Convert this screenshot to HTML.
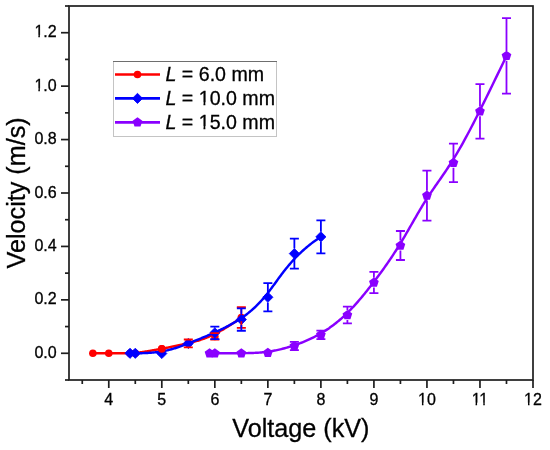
<!DOCTYPE html>
<html><head><meta charset="utf-8"><style>
html,body{margin:0;padding:0;background:#fff;}
svg{display:block;}
.tk{font-family:"Liberation Sans",sans-serif;font-size:16px;fill:#000;stroke:#000;stroke-width:0.3px;}
.lg{font-family:"Liberation Sans",sans-serif;font-size:19.6px;fill:#000;stroke:#000;stroke-width:0.3px;}
.ti{font-family:"Liberation Sans",sans-serif;font-size:25.2px;fill:#000;stroke:#000;stroke-width:0.3px;}
</style></head><body>
<svg width="550" height="450" viewBox="0 0 550 450">
<rect width="550" height="450" fill="#fff"/>
<defs><mask id="nf" maskUnits="userSpaceOnUse" x="0" y="0" width="550" height="450"><rect width="550" height="450" fill="#fff"/><g fill="#000"><rect x="34.46" y="88.32" width="3.89" height="3.68"/><rect x="39.87" y="88.32" width="3.55" height="3.68"/><rect x="34.46" y="34.89" width="3.89" height="3.68"/><rect x="39.87" y="34.89" width="3.55" height="3.68"/><rect x="418.04" y="402.68" width="3.89" height="3.68"/><rect x="423.45" y="402.68" width="3.55" height="3.68"/><rect x="471.67" y="402.68" width="3.89" height="3.68"/><rect x="477.08" y="402.68" width="3.55" height="3.68"/><rect x="479.37" y="402.68" width="3.89" height="3.68"/><rect x="484.78" y="402.68" width="3.55" height="3.68"/><rect x="524.10" y="402.68" width="3.89" height="3.68"/><rect x="529.51" y="402.68" width="3.55" height="3.68"/><rect x="198.73" y="102.36" width="4.76" height="4.51"/><rect x="205.36" y="102.36" width="4.35" height="4.51"/><rect x="198.73" y="126.26" width="4.76" height="4.51"/><rect x="205.36" y="126.26" width="4.35" height="4.51"/></g></mask></defs>
<rect x="69.00" y="6.00" width="464.00" height="374.00" fill="none" stroke="#1e1e1e" stroke-width="1.7"/>
<line x1="65.00" y1="380.00" x2="69.00" y2="380.00" stroke="#1e1e1e" stroke-width="1.7"/>
<line x1="61.00" y1="353.29" x2="69.00" y2="353.29" stroke="#1e1e1e" stroke-width="1.7"/>
<text x="34.46" y="357.79" class="tk">0.0</text>
<line x1="65.00" y1="326.57" x2="69.00" y2="326.57" stroke="#1e1e1e" stroke-width="1.7"/>
<line x1="61.00" y1="299.86" x2="69.00" y2="299.86" stroke="#1e1e1e" stroke-width="1.7"/>
<text x="34.46" y="304.36" class="tk">0.2</text>
<line x1="65.00" y1="273.14" x2="69.00" y2="273.14" stroke="#1e1e1e" stroke-width="1.7"/>
<line x1="61.00" y1="246.43" x2="69.00" y2="246.43" stroke="#1e1e1e" stroke-width="1.7"/>
<text x="34.46" y="250.93" class="tk">0.4</text>
<line x1="65.00" y1="219.71" x2="69.00" y2="219.71" stroke="#1e1e1e" stroke-width="1.7"/>
<line x1="61.00" y1="193.00" x2="69.00" y2="193.00" stroke="#1e1e1e" stroke-width="1.7"/>
<text x="34.46" y="197.50" class="tk">0.6</text>
<line x1="65.00" y1="166.29" x2="69.00" y2="166.29" stroke="#1e1e1e" stroke-width="1.7"/>
<line x1="61.00" y1="139.57" x2="69.00" y2="139.57" stroke="#1e1e1e" stroke-width="1.7"/>
<text x="34.46" y="144.07" class="tk">0.8</text>
<line x1="65.00" y1="112.86" x2="69.00" y2="112.86" stroke="#1e1e1e" stroke-width="1.7"/>
<line x1="61.00" y1="86.14" x2="69.00" y2="86.14" stroke="#1e1e1e" stroke-width="1.7"/>
<text x="34.46" y="90.64" class="tk" mask="url(#nf)">1.0</text>
<line x1="65.00" y1="59.43" x2="69.00" y2="59.43" stroke="#1e1e1e" stroke-width="1.7"/>
<line x1="61.00" y1="32.71" x2="69.00" y2="32.71" stroke="#1e1e1e" stroke-width="1.7"/>
<text x="34.46" y="37.21" class="tk" mask="url(#nf)">1.2</text>
<line x1="65.00" y1="6.00" x2="69.00" y2="6.00" stroke="#1e1e1e" stroke-width="1.7"/>
<line x1="82.26" y1="380.00" x2="82.26" y2="384.00" stroke="#1e1e1e" stroke-width="1.7"/>
<line x1="108.77" y1="380.00" x2="108.77" y2="388.00" stroke="#1e1e1e" stroke-width="1.7"/>
<text x="104.32" y="405.00" class="tk">4</text>
<line x1="135.29" y1="380.00" x2="135.29" y2="384.00" stroke="#1e1e1e" stroke-width="1.7"/>
<line x1="161.80" y1="380.00" x2="161.80" y2="388.00" stroke="#1e1e1e" stroke-width="1.7"/>
<text x="157.35" y="405.00" class="tk">5</text>
<line x1="188.31" y1="380.00" x2="188.31" y2="384.00" stroke="#1e1e1e" stroke-width="1.7"/>
<line x1="214.83" y1="380.00" x2="214.83" y2="388.00" stroke="#1e1e1e" stroke-width="1.7"/>
<text x="210.38" y="405.00" class="tk">6</text>
<line x1="241.34" y1="380.00" x2="241.34" y2="384.00" stroke="#1e1e1e" stroke-width="1.7"/>
<line x1="267.86" y1="380.00" x2="267.86" y2="388.00" stroke="#1e1e1e" stroke-width="1.7"/>
<text x="263.41" y="405.00" class="tk">7</text>
<line x1="294.37" y1="380.00" x2="294.37" y2="384.00" stroke="#1e1e1e" stroke-width="1.7"/>
<line x1="320.89" y1="380.00" x2="320.89" y2="388.00" stroke="#1e1e1e" stroke-width="1.7"/>
<text x="316.44" y="405.00" class="tk">8</text>
<line x1="347.40" y1="380.00" x2="347.40" y2="384.00" stroke="#1e1e1e" stroke-width="1.7"/>
<line x1="373.91" y1="380.00" x2="373.91" y2="388.00" stroke="#1e1e1e" stroke-width="1.7"/>
<text x="369.47" y="405.00" class="tk">9</text>
<line x1="400.43" y1="380.00" x2="400.43" y2="384.00" stroke="#1e1e1e" stroke-width="1.7"/>
<line x1="426.94" y1="380.00" x2="426.94" y2="388.00" stroke="#1e1e1e" stroke-width="1.7"/>
<text x="418.04" y="405.00" class="tk" mask="url(#nf)">10</text>
<line x1="453.46" y1="380.00" x2="453.46" y2="384.00" stroke="#1e1e1e" stroke-width="1.7"/>
<line x1="479.97" y1="380.00" x2="479.97" y2="388.00" stroke="#1e1e1e" stroke-width="1.7"/>
<text x="471.67" y="405.00" class="tk" mask="url(#nf)">11</text>
<line x1="506.49" y1="380.00" x2="506.49" y2="384.00" stroke="#1e1e1e" stroke-width="1.7"/>
<line x1="533.00" y1="380.00" x2="533.00" y2="388.00" stroke="#1e1e1e" stroke-width="1.7"/>
<text x="524.10" y="405.00" class="tk" mask="url(#nf)">12</text>
<g>
<path d="M92.86,353.29 L93.85,353.29 L94.83,353.29 L95.80,353.29 L96.75,353.29 L97.68,353.29 L98.60,353.29 L99.51,353.29 L100.41,353.29 L101.29,353.29 L102.16,353.29 L103.01,353.29 L103.86,353.29 L104.68,353.29 L105.50,353.29 L106.30,353.29 L107.09,353.29 L107.86,353.29 L108.63,353.29 L109.38,353.29 L110.11,353.29 L110.83,353.29 L111.54,353.29 L112.24,353.29 L112.93,353.29 L113.60,353.29 L114.26,353.29 L114.90,353.29 L115.54,353.29 L116.16,353.29 L116.77,353.29 L117.36,353.29 L117.95,353.29 L118.52,353.29 L119.08,353.29 L119.63,353.29 L120.16,353.29 L120.68,353.29 L121.19,353.29 L121.69,353.29 L122.18,353.29 L122.65,353.29 L123.11,353.29 L123.57,353.29 L124.00,353.29 L124.43,353.29 L124.85,353.29 L125.25,353.29 L125.64,353.29 L126.02,353.29 L126.39,353.29 L126.75,353.29 L127.10,353.29 L127.44,353.28 L127.77,353.28 L128.09,353.28 L128.40,353.28 L128.70,353.28 L129.00,353.28 L129.29,353.28 L129.57,353.27 L129.85,353.27 L130.12,353.27 L130.38,353.26 L130.64,353.26 L130.90,353.25 L131.15,353.25 L131.40,353.24 L131.64,353.23 L131.88,353.22 L132.12,353.21 L132.36,353.20 L132.59,353.19 L132.83,353.18 L133.06,353.17 L133.30,353.15 L133.53,353.14 L133.77,353.12 L134.00,353.10 L134.24,353.08 L134.48,353.06 L134.72,353.04 L134.97,353.02 L135.22,352.99 L135.47,352.97 L135.73,352.94 L135.99,352.91 L136.26,352.88 L136.53,352.85 L136.81,352.82 L137.09,352.78 L137.38,352.75 L137.68,352.71 L137.99,352.67 L138.30,352.63 L138.62,352.58 L138.95,352.54 L139.30,352.49 L139.65,352.44 L140.00,352.39 L140.37,352.33 L140.75,352.28 L141.13,352.22 L141.52,352.16 L141.92,352.10 L142.33,352.04 L142.75,351.98 L143.17,351.91 L143.60,351.85 L144.04,351.78 L144.48,351.71 L144.93,351.64 L145.38,351.57 L145.85,351.49 L146.31,351.42 L146.79,351.34 L147.27,351.26 L147.75,351.18 L148.24,351.10 L148.74,351.02 L149.23,350.94 L149.74,350.85 L150.25,350.77 L150.76,350.68 L151.28,350.59 L151.80,350.50 L152.32,350.41 L152.85,350.32 L153.38,350.23 L153.91,350.14 L154.45,350.04 L154.98,349.95 L155.52,349.85 L156.07,349.76 L156.61,349.66 L157.16,349.56 L157.71,349.46 L158.26,349.36 L158.81,349.26 L159.36,349.16 L159.92,349.06 L160.47,348.96 L161.02,348.86 L161.58,348.76 L162.13,348.65 L162.69,348.55 L163.24,348.44 L163.80,348.34 L164.35,348.23 L164.91,348.13 L165.47,348.02 L166.02,347.91 L166.58,347.80 L167.14,347.69 L167.70,347.58 L168.27,347.47 L168.83,347.36 L169.39,347.25 L169.96,347.13 L170.53,347.02 L171.10,346.90 L171.67,346.79 L172.25,346.67 L172.82,346.55 L173.40,346.43 L173.99,346.31 L174.57,346.18 L175.16,346.06 L175.75,345.93 L176.34,345.81 L176.94,345.68 L177.53,345.55 L178.14,345.42 L178.74,345.29 L179.35,345.15 L179.97,345.02 L180.58,344.88 L181.21,344.74 L181.83,344.60 L182.46,344.46 L183.09,344.31 L183.73,344.17 L184.37,344.02 L185.02,343.87 L185.67,343.72 L186.33,343.56 L186.99,343.41 L187.66,343.25 L188.33,343.09 L189.01,342.93 L189.70,342.77 L190.39,342.60 L191.08,342.43 L191.78,342.26 L192.49,342.09 L193.21,341.91 L193.93,341.72 L194.66,341.53 L195.40,341.34 L196.16,341.13 L196.92,340.92 L197.69,340.70 L198.48,340.46 L199.28,340.22 L200.09,339.97 L200.91,339.70 L201.75,339.42 L202.60,339.12 L203.47,338.82 L204.36,338.49 L205.26,338.15 L206.17,337.79 L207.11,337.42 L208.07,337.02 L209.04,336.61 L210.03,336.17 L211.05,335.72 L212.08,335.24 L213.14,334.74 L214.21,334.21 L215.32,333.66 L216.44,333.09 L217.59,332.49 L218.76,331.86 L219.96,331.21 L221.18,330.53 L222.43,329.82 L223.71,329.07 L225.01,328.30 L226.34,327.50 L227.70,326.66 L229.09,325.79 L230.51,324.89 L231.96,323.95 L233.44,322.98 L234.96,321.97 L236.50,320.92 L238.08,319.84 L239.70,318.71 L241.34,317.55" stroke="#FF0000" stroke-width="2.45" fill="none" stroke-linejoin="round"/>
<circle cx="92.86" cy="353.29" r="3.8" fill="#FF0000"/>
<circle cx="108.77" cy="353.29" r="3.8" fill="#FF0000"/>
<circle cx="129.98" cy="353.29" r="3.8" fill="#FF0000"/>
<circle cx="135.29" cy="353.29" r="3.8" fill="#FF0000"/>
<circle cx="161.80" cy="348.90" r="3.8" fill="#FF0000"/>
<circle cx="188.31" cy="343.40" r="3.8" fill="#FF0000"/>
<circle cx="214.83" cy="336.40" r="3.8" fill="#FF0000"/>
<circle cx="241.34" cy="317.55" r="3.8" fill="#FF0000"/>
<path d="M129.98,353.29 L130.40,353.29 L130.84,353.29 L131.31,353.29 L131.81,353.29 L132.34,353.29 L132.89,353.29 L133.46,353.29 L134.06,353.28 L134.68,353.28 L135.32,353.28 L135.98,353.27 L136.66,353.26 L137.36,353.26 L138.08,353.25 L138.81,353.23 L139.56,353.22 L140.33,353.20 L141.11,353.18 L141.90,353.16 L142.70,353.14 L143.51,353.11 L144.34,353.08 L145.17,353.04 L146.01,353.00 L146.85,352.96 L147.71,352.91 L148.56,352.86 L149.43,352.81 L150.29,352.75 L151.16,352.69 L152.03,352.62 L152.89,352.55 L153.76,352.47 L154.63,352.38 L155.49,352.29 L156.35,352.20 L157.20,352.10 L158.05,351.99 L158.89,351.88 L159.73,351.76 L160.56,351.63 L161.37,351.50 L162.18,351.36 L162.99,351.22 L163.78,351.07 L164.57,350.91 L165.35,350.75 L166.13,350.58 L166.89,350.41 L167.65,350.24 L168.41,350.05 L169.16,349.87 L169.90,349.67 L170.64,349.48 L171.37,349.28 L172.10,349.07 L172.82,348.86 L173.54,348.65 L174.25,348.44 L174.96,348.22 L175.66,347.99 L176.36,347.77 L177.06,347.54 L177.75,347.30 L178.44,347.07 L179.13,346.83 L179.81,346.59 L180.49,346.35 L181.17,346.10 L181.85,345.86 L182.52,345.61 L183.20,345.36 L183.87,345.10 L184.54,344.85 L185.20,344.59 L185.87,344.34 L186.54,344.08 L187.20,343.82 L187.87,343.56 L188.54,343.31 L189.20,343.05 L189.87,342.79 L190.53,342.53 L191.20,342.26 L191.86,342.00 L192.53,341.74 L193.20,341.48 L193.86,341.21 L194.53,340.95 L195.19,340.69 L195.86,340.42 L196.52,340.15 L197.19,339.89 L197.85,339.62 L198.52,339.35 L199.19,339.08 L199.85,338.81 L200.52,338.54 L201.18,338.27 L201.85,337.99 L202.51,337.72 L203.18,337.44 L203.85,337.17 L204.51,336.89 L205.18,336.61 L205.84,336.33 L206.51,336.05 L207.17,335.76 L207.84,335.48 L208.51,335.19 L209.17,334.91 L209.84,334.62 L210.50,334.33 L211.17,334.04 L211.83,333.74 L212.50,333.45 L213.16,333.15 L213.83,332.86 L214.50,332.56 L215.16,332.26 L215.83,331.96 L216.49,331.65 L217.16,331.35 L217.82,331.04 L218.49,330.73 L219.16,330.41 L219.82,330.10 L220.49,329.78 L221.15,329.46 L221.82,329.14 L222.48,328.82 L223.15,328.49 L223.81,328.16 L224.48,327.82 L225.15,327.49 L225.81,327.15 L226.48,326.80 L227.14,326.45 L227.81,326.10 L228.47,325.75 L229.14,325.39 L229.81,325.03 L230.47,324.67 L231.14,324.30 L231.80,323.92 L232.47,323.54 L233.13,323.16 L233.80,322.77 L234.46,322.38 L235.13,321.99 L235.80,321.59 L236.46,321.18 L237.13,320.77 L237.79,320.36 L238.46,319.93 L239.12,319.51 L239.79,319.08 L240.46,318.64 L241.12,318.20 L241.79,317.75 L242.45,317.30 L243.12,316.84 L243.79,316.37 L244.45,315.89 L245.12,315.41 L245.79,314.92 L246.46,314.42 L247.13,313.91 L247.81,313.38 L248.49,312.85 L249.16,312.31 L249.85,311.75 L250.53,311.18 L251.22,310.60 L251.91,310.01 L252.60,309.40 L253.30,308.77 L254.00,308.13 L254.70,307.48 L255.41,306.81 L256.12,306.12 L256.84,305.41 L257.56,304.69 L258.29,303.95 L259.02,303.19 L259.76,302.41 L260.50,301.61 L261.25,300.79 L262.00,299.94 L262.76,299.08 L263.53,298.19 L264.31,297.28 L265.09,296.35 L265.87,295.40 L266.67,294.42 L267.47,293.41 L268.28,292.38 L269.10,291.32 L269.93,290.24 L270.76,289.13 L271.61,287.99 L272.46,286.83 L273.33,285.64 L274.21,284.43 L275.10,283.20 L276.00,281.95 L276.92,280.68 L277.86,279.39 L278.82,278.09 L279.79,276.77 L280.79,275.43 L281.80,274.08 L282.84,272.72 L283.90,271.35 L284.98,269.97 L286.09,268.58 L287.22,267.18 L288.39,265.78 L289.58,264.37 L290.79,262.95 L292.04,261.53 L293.32,260.11 L294.64,258.70 L295.98,257.28 L297.36,255.86 L298.78,254.44 L300.23,253.03 L301.72,251.63 L303.25,250.23 L304.82,248.84 L306.43,247.46 L308.08,246.08 L309.77,244.72 L311.51,243.37 L313.29,242.04 L315.12,240.72 L316.99,239.41 L318.91,238.12 L320.89,236.85" stroke="#0000FF" stroke-width="2.45" fill="none" stroke-linejoin="round"/>
<polygon points="129.98,348.19 135.08,353.29 129.98,358.39 124.88,353.29" fill="#0000FF" stroke="#0000FF" stroke-width="0.8" stroke-linejoin="round"/>
<polygon points="135.29,348.19 140.39,353.29 135.29,358.39 130.19,353.29" fill="#0000FF" stroke="#0000FF" stroke-width="0.8" stroke-linejoin="round"/>
<polygon points="161.80,348.40 166.90,353.50 161.80,358.60 156.70,353.50" fill="#0000FF" stroke="#0000FF" stroke-width="0.8" stroke-linejoin="round"/>
<polygon points="188.31,338.40 193.41,343.50 188.31,348.60 183.21,343.50" fill="#0000FF" stroke="#0000FF" stroke-width="0.8" stroke-linejoin="round"/>
<polygon points="214.83,327.75 219.93,332.85 214.83,337.95 209.73,332.85" fill="#0000FF" stroke="#0000FF" stroke-width="0.8" stroke-linejoin="round"/>
<polygon points="241.34,314.45 246.44,319.55 241.34,324.65 236.24,319.55" fill="#0000FF" stroke="#0000FF" stroke-width="0.8" stroke-linejoin="round"/>
<polygon points="267.86,292.15 272.96,297.25 267.86,302.35 262.76,297.25" fill="#0000FF" stroke="#0000FF" stroke-width="0.8" stroke-linejoin="round"/>
<polygon points="294.37,248.50 299.47,253.60 294.37,258.70 289.27,253.60" fill="#0000FF" stroke="#0000FF" stroke-width="0.8" stroke-linejoin="round"/>
<polygon points="320.89,231.75 325.99,236.85 320.89,241.95 315.79,236.85" fill="#0000FF" stroke="#0000FF" stroke-width="0.8" stroke-linejoin="round"/>
<path d="M209.53,353.29 L210.23,353.29 L211.02,353.29 L211.88,353.29 L212.81,353.29 L213.81,353.28 L214.86,353.28 L215.98,353.28 L217.14,353.28 L218.36,353.28 L219.62,353.28 L220.91,353.28 L222.24,353.27 L223.60,353.27 L224.99,353.27 L226.40,353.26 L227.82,353.26 L229.26,353.25 L230.70,353.25 L232.15,353.24 L233.59,353.23 L235.03,353.23 L236.46,353.22 L237.88,353.21 L239.27,353.20 L240.64,353.18 L242.00,353.17 L243.33,353.16 L244.64,353.14 L245.93,353.12 L247.20,353.10 L248.45,353.07 L249.69,353.04 L250.91,353.00 L252.12,352.96 L253.32,352.92 L254.50,352.87 L255.67,352.81 L256.83,352.75 L257.98,352.68 L259.13,352.61 L260.26,352.52 L261.39,352.43 L262.51,352.33 L263.63,352.22 L264.75,352.10 L265.86,351.97 L266.97,351.83 L268.08,351.68 L269.19,351.52 L270.30,351.35 L271.41,351.17 L272.52,350.98 L273.63,350.78 L274.74,350.57 L275.84,350.34 L276.95,350.11 L278.06,349.87 L279.17,349.62 L280.28,349.36 L281.39,349.08 L282.50,348.80 L283.61,348.52 L284.72,348.22 L285.83,347.91 L286.94,347.59 L288.05,347.27 L289.16,346.94 L290.27,346.59 L291.38,346.24 L292.49,345.89 L293.59,345.52 L294.70,345.15 L295.81,344.76 L296.92,344.37 L298.03,343.98 L299.14,343.57 L300.25,343.15 L301.36,342.73 L302.47,342.29 L303.58,341.84 L304.69,341.39 L305.80,340.92 L306.91,340.44 L308.02,339.96 L309.13,339.46 L310.24,338.94 L311.35,338.42 L312.45,337.88 L313.56,337.33 L314.67,336.77 L315.78,336.20 L316.89,335.61 L318.00,335.00 L319.11,334.39 L320.22,333.75 L321.33,333.11 L322.44,332.44 L323.55,331.77 L324.66,331.07 L325.77,330.36 L326.88,329.64 L327.99,328.89 L329.10,328.14 L330.20,327.36 L331.31,326.56 L332.42,325.75 L333.53,324.92 L334.64,324.07 L335.75,323.21 L336.86,322.32 L337.97,321.41 L339.08,320.49 L340.19,319.54 L341.30,318.58 L342.41,317.59 L343.52,316.58 L344.63,315.56 L345.74,314.51 L346.85,313.44 L347.95,312.34 L349.06,311.23 L350.17,310.09 L351.28,308.93 L352.39,307.76 L353.50,306.56 L354.61,305.35 L355.72,304.11 L356.83,302.86 L357.94,301.59 L359.05,300.31 L360.16,299.01 L361.27,297.69 L362.38,296.36 L363.49,295.01 L364.60,293.65 L365.70,292.28 L366.81,290.90 L367.92,289.50 L369.03,288.09 L370.14,286.68 L371.25,285.25 L372.36,283.81 L373.47,282.36 L374.58,280.91 L375.69,279.45 L376.80,277.97 L377.91,276.49 L379.02,275.00 L380.13,273.50 L381.24,271.98 L382.35,270.46 L383.45,268.92 L384.56,267.37 L385.67,265.80 L386.78,264.22 L387.89,262.62 L389.00,261.01 L390.11,259.39 L391.22,257.74 L392.33,256.08 L393.44,254.40 L394.55,252.70 L395.66,250.98 L396.77,249.25 L397.88,247.49 L398.99,245.71 L400.10,243.91 L401.21,242.09 L402.31,240.25 L403.42,238.38 L404.53,236.51 L405.64,234.61 L406.75,232.71 L407.86,230.79 L408.97,228.87 L410.08,226.94 L411.19,225.01 L412.30,223.08 L413.41,221.15 L414.52,219.22 L415.63,217.30 L416.74,215.38 L417.85,213.48 L418.96,211.58 L420.06,209.70 L421.17,207.84 L422.28,205.99 L423.39,204.17 L424.50,202.37 L425.61,200.59 L426.72,198.85 L427.83,197.13 L428.94,195.43 L430.05,193.76 L431.17,192.11 L432.29,190.47 L433.41,188.83 L434.54,187.20 L435.67,185.57 L436.82,183.94 L437.97,182.29 L439.13,180.63 L440.30,178.95 L441.48,177.25 L442.68,175.52 L443.89,173.76 L445.11,171.96 L446.35,170.12 L447.60,168.23 L448.87,166.29 L450.16,164.30 L451.47,162.25 L452.80,160.13 L454.16,157.95 L455.53,155.69 L456.92,153.35 L458.35,150.93 L459.81,148.41 L461.30,145.78 L462.84,143.04 L464.42,140.17 L466.05,137.16 L467.75,134.01 L469.50,130.71 L471.32,127.24 L473.21,123.59 L475.18,119.76 L477.22,115.74 L479.36,111.51 L481.58,107.06 L483.90,102.40 L486.32,97.50 L488.85,92.36 L491.48,86.96 L494.24,81.30 L497.11,75.37 L500.10,69.16 L503.23,62.66 L506.49,55.85" stroke="#8A00FF" stroke-width="2.45" fill="none" stroke-linejoin="round"/>
<polygon points="209.53,348.19 214.38,351.71 212.52,357.41 206.53,357.41 204.68,351.71" fill="#8A00FF"/>
<polygon points="214.83,348.19 219.68,351.71 217.83,357.41 211.83,357.41 209.98,351.71" fill="#8A00FF"/>
<polygon points="241.34,348.19 246.19,351.71 244.34,357.41 238.35,357.41 236.49,351.71" fill="#8A00FF"/>
<polygon points="267.86,347.65 272.71,351.18 270.85,356.88 264.86,356.88 263.01,351.18" fill="#8A00FF"/>
<polygon points="294.37,340.90 299.22,344.42 297.37,350.13 291.37,350.13 289.52,344.42" fill="#8A00FF"/>
<polygon points="320.89,329.70 325.74,333.22 323.88,338.93 317.89,338.93 316.04,333.22" fill="#8A00FF"/>
<polygon points="347.40,309.90 352.25,313.42 350.40,319.13 344.40,319.13 342.55,313.42" fill="#8A00FF"/>
<polygon points="373.91,277.45 378.76,280.97 376.91,286.68 370.92,286.68 369.06,280.97" fill="#8A00FF"/>
<polygon points="400.43,240.40 405.28,243.92 403.43,249.63 397.43,249.63 395.58,243.92" fill="#8A00FF"/>
<polygon points="426.94,190.55 431.79,194.07 429.94,199.78 423.95,199.78 422.09,194.07" fill="#8A00FF"/>
<polygon points="453.46,157.80 458.31,161.32 456.45,167.03 450.46,167.03 448.61,161.32" fill="#8A00FF"/>
<polygon points="479.97,106.20 484.82,109.72 482.97,115.43 476.97,115.43 475.12,109.72" fill="#8A00FF"/>
<polygon points="506.49,50.75 511.34,54.27 509.48,59.98 503.49,59.98 501.64,54.27" fill="#8A00FF"/>
<circle cx="161.80" cy="348.90" r="3.8" fill="#FF0000"/>





<path d="M183.81,339.50 H192.81 M183.81,347.30 H192.81 M188.31,339.50 V339.60 M188.31,347.20 V347.30" stroke="#FF0000" stroke-width="1.8" fill="none"/>
<path d="M210.33,333.09 H219.33 M210.33,339.71 H219.33" stroke="#FF0000" stroke-width="1.8" fill="none"/>
<path d="M236.84,307.13 H245.84 M236.84,327.97 H245.84 M241.34,307.13 V313.75 M241.34,321.35 V327.97" stroke="#FF0000" stroke-width="1.8" fill="none"/>




<path d="M210.33,326.60 H219.33 M210.33,339.10 H219.33 M214.83,326.60 V327.65 M214.83,338.05 V339.10" stroke="#0000FF" stroke-width="1.8" fill="none"/>
<path d="M236.84,308.33 H245.84 M236.84,330.77 H245.84 M241.34,308.33 V314.35 M241.34,324.75 V330.77" stroke="#0000FF" stroke-width="1.8" fill="none"/>
<path d="M263.36,283.20 H272.36 M263.36,311.30 H272.36 M267.86,283.20 V292.05 M267.86,302.45 V311.30" stroke="#0000FF" stroke-width="1.8" fill="none"/>
<path d="M289.87,238.56 H298.87 M289.87,268.64 H298.87 M294.37,238.56 V248.40 M294.37,258.80 V268.64" stroke="#0000FF" stroke-width="1.8" fill="none"/>
<path d="M316.39,220.39 H325.39 M316.39,253.31 H325.39 M320.89,220.39 V231.65 M320.89,242.05 V253.31" stroke="#0000FF" stroke-width="1.8" fill="none"/>




<path d="M289.87,341.81 H298.87 M289.87,350.19 H298.87" stroke="#8A00FF" stroke-width="1.8" fill="none"/>
<path d="M316.39,330.53 H325.39 M316.39,339.07 H325.39" stroke="#8A00FF" stroke-width="1.8" fill="none"/>
<path d="M342.90,306.72 H351.90 M342.90,323.28 H351.90 M347.40,306.72 V310.10 M347.40,319.90 V323.28" stroke="#8A00FF" stroke-width="1.8" fill="none"/>
<path d="M369.41,271.89 H378.41 M369.41,293.21 H378.41 M373.91,271.89 V277.65 M373.91,287.45 V293.21" stroke="#8A00FF" stroke-width="1.8" fill="none"/>
<path d="M395.93,230.99 H404.93 M395.93,260.01 H404.93 M400.43,230.99 V240.60 M400.43,250.40 V260.01" stroke="#8A00FF" stroke-width="1.8" fill="none"/>
<path d="M422.44,170.59 H431.44 M422.44,220.71 H431.44 M426.94,170.59 V190.75 M426.94,200.55 V220.71" stroke="#8A00FF" stroke-width="1.8" fill="none"/>
<path d="M448.96,143.69 H457.96 M448.96,182.11 H457.96 M453.46,143.69 V158.00 M453.46,167.80 V182.11" stroke="#8A00FF" stroke-width="1.8" fill="none"/>
<path d="M475.47,84.05 H484.47 M475.47,138.55 H484.47 M479.97,84.05 V106.40 M479.97,116.20 V138.55" stroke="#8A00FF" stroke-width="1.8" fill="none"/>
<path d="M501.99,18.10 H510.99 M501.99,93.60 H510.99 M506.49,18.10 V50.95 M506.49,60.75 V93.60" stroke="#8A00FF" stroke-width="1.8" fill="none"/>
</g>
<rect x="113.5" y="61.5" width="163" height="75" fill="#fff" stroke="#c4c4c4" stroke-width="1"/>
<line x1="113" y1="61.5" x2="277" y2="61.5" stroke="#6e6e6e" stroke-width="1"/>
<line x1="115" y1="74.50" x2="160" y2="74.50" stroke="#FF0000" stroke-width="2.7"/>
<text x="165.5" y="81.30" class="lg" mask="url(#nf)"><tspan font-style="italic">L</tspan> = 6.0 mm</text>
<line x1="115" y1="98.40" x2="160" y2="98.40" stroke="#0000FF" stroke-width="2.7"/>
<text x="165.5" y="105.20" class="lg" mask="url(#nf)"><tspan font-style="italic">L</tspan> = 10.0 mm</text>
<line x1="115" y1="122.30" x2="160" y2="122.30" stroke="#8A00FF" stroke-width="2.7"/>
<text x="165.5" y="129.10" class="lg" mask="url(#nf)"><tspan font-style="italic">L</tspan> = 15.0 mm</text>
<circle cx="137.50" cy="74.50" r="3.8" fill="#FF0000"/>
<polygon points="137.50,93.30 142.60,98.40 137.50,103.50 132.40,98.40" fill="#0000FF" stroke="#0000FF" stroke-width="0.8" stroke-linejoin="round"/>
<polygon points="137.50,117.20 142.35,120.72 140.50,126.43 134.50,126.43 132.65,120.72" fill="#8A00FF"/>
<text x="300.9" y="436.5" text-anchor="middle" class="ti">Voltage (kV)</text>
<text transform="translate(25,192.9) rotate(-90)" text-anchor="middle" class="ti">Velocity (m/s)</text>
</svg>
</body></html>
